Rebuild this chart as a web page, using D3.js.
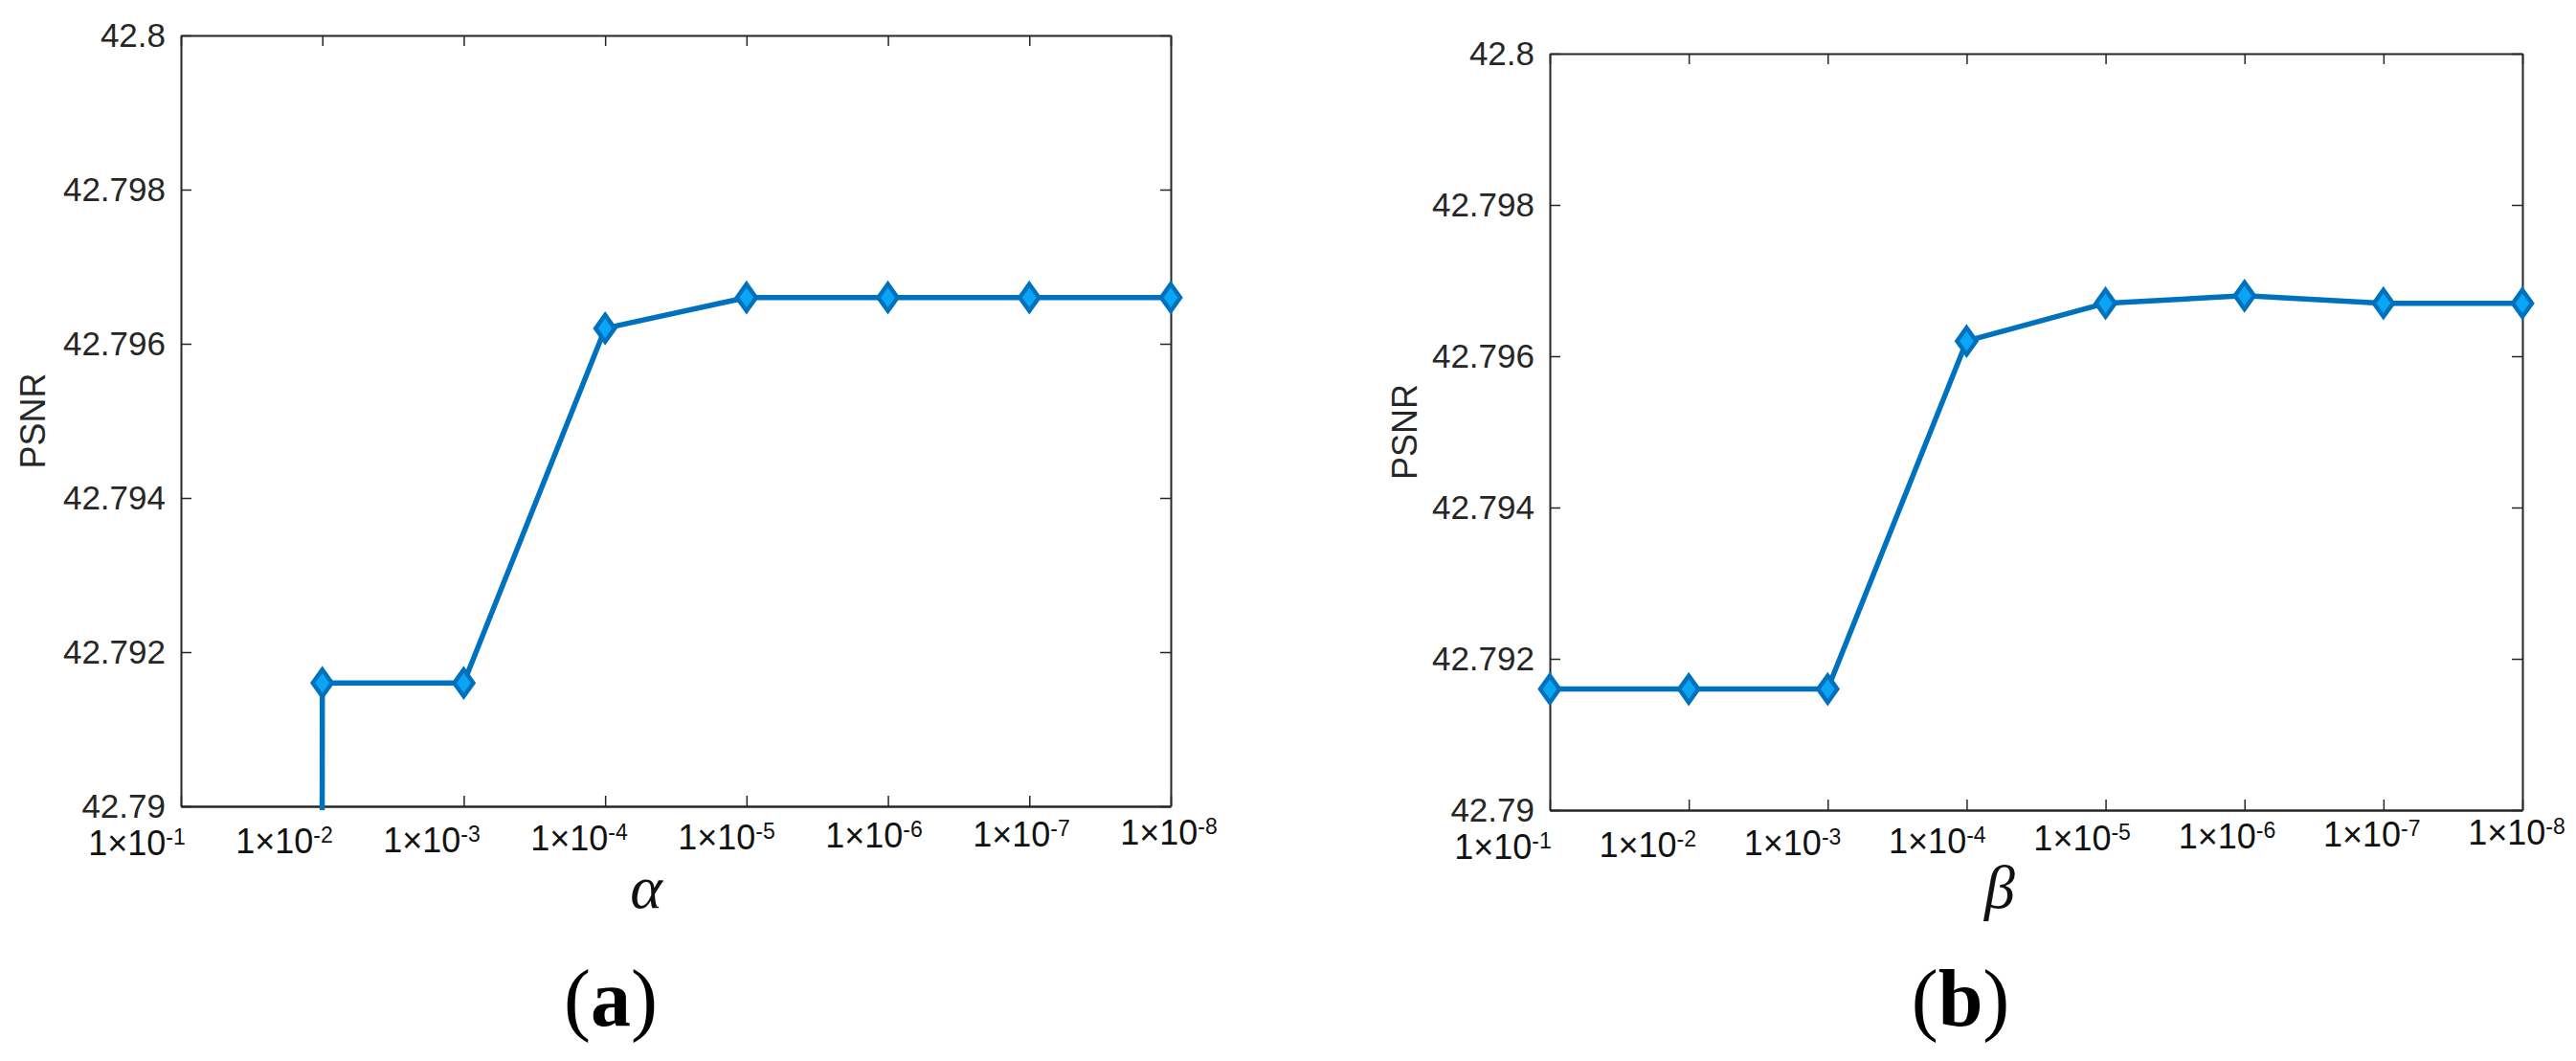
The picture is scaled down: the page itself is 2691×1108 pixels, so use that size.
<!DOCTYPE html>
<html>
<head>
<meta charset="utf-8">
<script src="https://cdn.jsdelivr.net/npm/d3@7"></script>
<style>
  body { margin: 0; background: #fff; }
  svg { display: block; }
</style>
</head>
<body>
<svg id="chart" width="2691" height="1108"></svg>
<script>
// x categories: 1x10^e
const exponents = [-1, -2, -3, -4, -5, -6, -7, -8];
// PSNR vs alpha (first value lies far below the visible range)
const psnrAlpha = [41.0, 42.7916, 42.7916, 42.7962, 42.7966, 42.7966, 42.7966, 42.7966];
// PSNR vs beta
const psnrBeta = [42.7916, 42.7916, 42.7916, 42.7962, 42.7967, 42.7968, 42.7967, 42.7967];
const yTicks = [42.79, 42.792, 42.794, 42.796, 42.798, 42.8];
const yDomain = [42.79, 42.8];

const axisColor = "#262626";
const lineColor = "#0072BD";
const faceColor = "#0AA5F5";

const svg = d3.select("#chart");

function drawPanel(p) {
  const g = svg.append("g");
  const x = d3.scaleLinear().domain([0, exponents.length - 1]).range([p.left, p.right]);
  const y = d3.scaleLinear().domain(yDomain).range([p.bottom, p.top]);
  const idx = d3.range(exponents.length);

  // box axes, ticks pointing inwards
  const styleAxis = (sel, w) => {
    sel.select(".domain").attr("stroke", axisColor).attr("stroke-width", w);
    sel.selectAll(".tick line").attr("stroke", axisColor).attr("stroke-width", 1.5);
  };
  g.append("g").attr("transform", `translate(0,${p.bottom})`)
    .call(d3.axisBottom(x).tickValues(idx).tickSizeInner(-11).tickSizeOuter(0).tickFormat(""))
    .call(s => styleAxis(s, 2.6));
  g.append("g").attr("transform", `translate(0,${p.top})`)
    .call(d3.axisTop(x).tickValues(idx).tickSizeInner(-11).tickSizeOuter(0).tickFormat(""))
    .call(s => styleAxis(s, 2));
  g.append("g").attr("transform", `translate(${p.right},0)`)
    .call(d3.axisRight(y).tickValues(yTicks).tickSizeInner(-11).tickSizeOuter(0).tickFormat(""))
    .call(s => styleAxis(s, 2));
  g.append("g").attr("transform", `translate(${p.left},0)`)
    .call(d3.axisLeft(y).tickValues(yTicks).tickSizeInner(-11).tickSizeOuter(0).tickPadding(16)
      .tickFormat(d => String(+d.toFixed(3))))
    .call(s => styleAxis(s, 2))
    .call(s => s.selectAll("text")
      .attr("font-family", "Liberation Sans, Arial, sans-serif")
      .attr("font-size", 35).attr("fill", axisColor));

  // x tick labels (placed on their own slightly offset scale, as in the figure)
  const lx = d3.scaleLinear().domain([0, exponents.length - 1]).range(p.labelX);
  const ly = d3.scaleLinear().domain([0, exponents.length - 1]).range(p.labelY);
  const labels = g.append("g").selectAll("text").data(exponents).join("text")
    .attr("x", (d, i) => lx(i))
    .attr("y", (d, i) => ly(i))
    .attr("text-anchor", "middle")
    .attr("font-family", "Liberation Sans, Arial, sans-serif")
    .attr("font-size", 36)
    .attr("fill", "#111");
  labels.append("tspan").text("1\u00d710");
  labels.append("tspan").attr("dy", -11).attr("font-size", 23).text(d => String(d));

  // y label
  g.append("text")
    .attr("transform", `translate(${p.yLabelX},${(p.top + p.bottom) / 2}) rotate(-90)`)
    .attr("text-anchor", "middle")
    .attr("font-family", "Liberation Sans, Arial, sans-serif")
    .attr("font-size", 36)
    .attr("fill", axisColor)
    .text("PSNR");

  // x symbol
  g.append("text")
    .attr("x", p.symbolX).attr("y", 948)
    .attr("text-anchor", "middle")
    .attr("font-family", "Liberation Serif, Times New Roman, serif")
    .attr("font-style", "italic")
    .attr("font-size", 64)
    .attr("fill", "#111")
    .text(p.symbol);

  // caption
  const cap = g.append("text")
    .attr("x", p.captionX).attr("y", 1071)
    .attr("text-anchor", "middle")
    .attr("font-family", "Liberation Serif, Times New Roman, serif")
    .attr("font-size", 84)
    .attr("fill", "#000");
  cap.append("tspan").text("(");
  cap.append("tspan").attr("font-weight", "bold").text(p.caption);
  cap.append("tspan").text(")");

  // data line, clipped to the axes box
  const clipId = "clip-" + p.caption;
  svg.append("clipPath").attr("id", clipId).append("rect")
    .attr("x", p.left - 20).attr("y", p.top - 20)
    .attr("width", p.right - p.left + 40).attr("height", p.bottom - p.top + 24);
  const plot = g.append("g").attr("clip-path", `url(#${clipId})`);
  const line = d3.line().x((d, i) => x(i)).y(d => y(d));
  plot.append("path")
    .datum(p.values)
    .attr("d", line)
    .attr("fill", "none")
    .attr("stroke", lineColor)
    .attr("stroke-width", 5.5)
    .attr("stroke-linejoin", "round");
  plot.selectAll(".marker").data(p.values).join("path")
    .attr("class", "marker")
    .attr("transform", (d, i) => `translate(${x(i)},${y(d)})`)
    .attr("d", "M0,-14L10,0L0,14L-10,0Z")
    .attr("fill", faceColor)
    .attr("stroke", lineColor)
    .attr("stroke-width", 4.5);
}

drawPanel({
  left: 189, right: 1223, top: 37, bottom: 842,
  values: psnrAlpha, symbol: "\u03b1", caption: "a",
  labelX: [143, 1221], labelY: [893, 882],
  yLabelX: 47, symbolX: 675, captionX: 638
});
drawPanel({
  left: 1619, right: 2635, top: 56, bottom: 846,
  values: psnrBeta, symbol: "\u03b2", caption: "b",
  labelX: [1570, 2629], labelY: [897, 882],
  yLabelX: 1480, symbolX: 2089, captionX: 2048
});
</script>
</body>
</html>
